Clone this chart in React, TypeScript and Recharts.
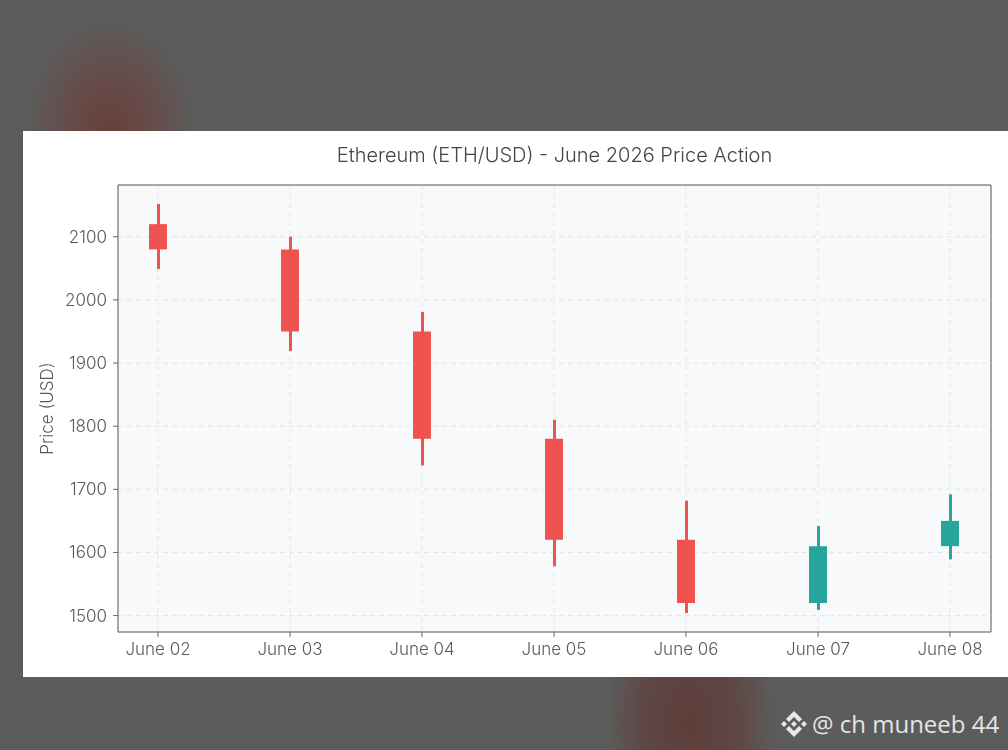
import React from "react";
import {
  ComposedChart,
  Bar,
  Cell,
  XAxis,
  YAxis,
  CartesianGrid,
} from "recharts";

const days = ["June 02", "June 03", "June 04", "June 05", "June 06", "June 07", "June 08"];
const opens = [2120, 2080, 1950, 1780, 1620, 1520, 1610];
const closes = [2080, 1950, 1780, 1620, 1520, 1610, 1650];
const highs = [2152, 2100, 1981, 1810, 1682, 1642, 1692];
const lows = [2049, 1919, 1738, 1578, 1504, 1509, 1589];
const priceTicks = [1500, 1600, 1700, 1800, 1900, 2000, 2100];

const UP = "#26a69a";
const DOWN = "#ef5350";
const FONT = "Inter, 'Open Sans', sans-serif";
const DOMAIN: [number, number] = [1474, 2182];

const data = days.map((day, i) => ({
  day,
  wick: [lows[i], highs[i]],
  body: [Math.min(opens[i], closes[i]), Math.max(opens[i], closes[i])],
  up: closes[i] >= opens[i],
}));

const tickStyle = { fontSize: 17, fill: "#5a5a5a", fontFamily: FONT, fontWeight: 300 };
const frame = { stroke: "#8c8c8c", strokeWidth: 1.5 };

const BinanceMark = () => (
  <svg width="28" height="28" viewBox="0 0 28 28" style={{ position: "absolute", left: 780, top: 710 }}>
    <g fill="#e8e8e8">
      <path d="M14 1 L22 9 L19 12 L14 7 L9 12 L6 9 Z" />
      <path d="M14 27 L22 19 L19 16 L14 21 L9 16 L6 19 Z" />
      <path d="M14 11 L17 14 L14 17 L11 14 Z" />
      <path d="M4 11 L7 14 L4 17 L1 14 Z" />
      <path d="M24 11 L27 14 L24 17 L21 14 Z" />
    </g>
  </svg>
);

export default function App() {
  return (
    <div
      style={{
        position: "fixed",
        left: 0,
        top: 0,
        width: 1008,
        height: 750,
        overflow: "hidden",
        background:
          "radial-gradient(ellipse 85px 110px at 110px 130px, #693f3b 0%, #664b48 45%, rgba(92,92,92,0) 100%), radial-gradient(ellipse 85px 150px at 690px 725px, #5f3e3b 0%, #5e4744 55%, rgba(92,92,92,0) 100%), #5c5c5c",
      }}
    >
      <div
        style={{
          position: "absolute",
          left: 23,
          top: 131,
          width: 985,
          height: 546,
          background: "#ffffff",
        }}
      >
        <div
          style={{
            position: "absolute",
            left: 95,
            width: 873,
            top: 12,
            textAlign: "center",
            fontFamily: FONT,
            fontSize: 20,
            fontWeight: 300,
            color: "#444444",
            filter: "blur(0.4px)",
          }}
        >
          Ethereum (ETH/USD) - June 2026 Price Action
        </div>
        <div style={{ filter: "blur(0.4px)" }}>
          <ComposedChart
            width={985}
            height={546}
            data={data}
            margin={{ top: 53, right: 16, bottom: 0, left: 0 }}
          >
            <CartesianGrid
              xAxisId="body"
              yAxisId="price"
              stroke="#e3e5e9"
              strokeDasharray="5 4"
              fill="#f8f9fb"
            />
            <XAxis
              xAxisId="body"
              dataKey="day"
              scale="point"
              padding={{ left: 40, right: 41 }}
              height={45}
              interval={0}
              tick={tickStyle}
              tickLine={{ stroke: "#666666" }}
              tickSize={5}
              tickMargin={6}
              axisLine={frame}
            />
            <XAxis
              xAxisId="wick"
              dataKey="day"
              orientation="top"
              scale="point"
              padding={{ left: 40, right: 41 }}
              height={1}
              tick={false}
              tickLine={false}
              axisLine={frame}
            />
            <YAxis
              yAxisId="price"
              width={95}
              domain={DOMAIN}
              ticks={priceTicks}
              interval={0}
              tick={tickStyle}
              tickLine={{ stroke: "#666666" }}
              tickSize={5}
              tickMargin={6}
              axisLine={frame}
              label={{
                value: "Price (USD)",
                angle: -90,
                position: "insideLeft",
                offset: 24,
                style: { ...tickStyle, fontSize: 17, textAnchor: "middle" },
              }}
            />
            <YAxis
              yAxisId="frame"
              orientation="right"
              width={1}
              domain={DOMAIN}
              tick={false}
              tickLine={false}
              axisLine={frame}
            />
            <Bar xAxisId="wick" yAxisId="price" dataKey="wick" barSize={3} isAnimationActive={false}>
              {data.map((d) => (
                <Cell key={d.day} fill={d.up ? UP : DOWN} />
              ))}
            </Bar>
            <Bar xAxisId="body" yAxisId="price" dataKey="body" barSize={18} isAnimationActive={false}>
              {data.map((d) => (
                <Cell key={d.day} fill={d.up ? UP : DOWN} />
              ))}
            </Bar>
          </ComposedChart>
        </div>
      </div>
      <BinanceMark />
      <div
        style={{
          position: "absolute",
          left: 812,
          top: 707,
          fontFamily: "'Open Sans', sans-serif",
          fontSize: 24,
          color: "#e4e4e4",
          whiteSpace: "nowrap",
        }}
      >
        @ ch muneeb 44
      </div>
    </div>
  );
}
